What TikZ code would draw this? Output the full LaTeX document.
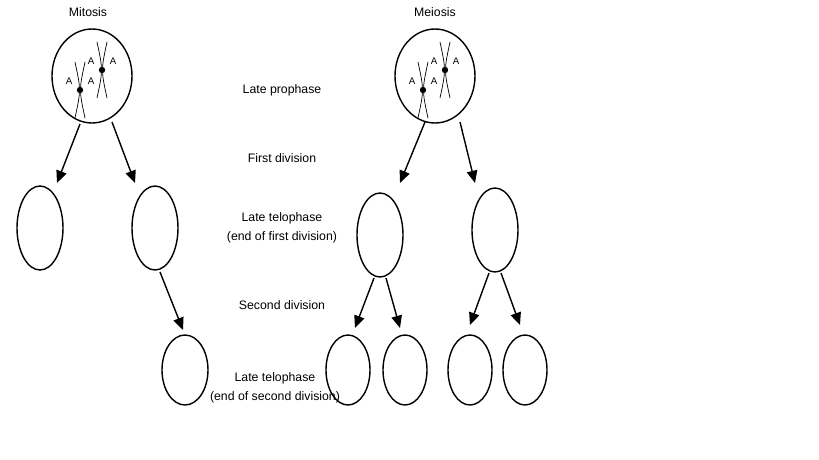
\documentclass[tikz,border=0pt]{standalone}
\usepackage{fontspec}
\setmainfont{Liberation Sans}
\usetikzlibrary{arrows.meta}
\begin{document}
\begin{tikzpicture}[x=0.02cm,y=-0.02cm,
  cell/.style={draw,thick,ellipse},
  split/.style={draw,thick,-{Triangle[length=7pt,width=6pt]}},
  stage/.style={font=\fontsize{7}{11}\selectfont,align=center},
  chromo/.pic={
    \draw (-5,-28) .. controls (1,0) .. (-5,28);
    \draw (5,-28) .. controls (-1,0) .. (5,28);
    \fill (0,0) circle (3.2);
    \node[font=\fontsize{5.5}{5}\selectfont] at (-11,-9) {A};
    \node[font=\fontsize{5.5}{5}\selectfont] at (11,-9) {A};
  }]
 \useasboundingbox (0,0) rectangle (819,460);

    % titles
    \node[stage] (mit) at (88,12) {Mitosis};
    \node[stage] (mei) at (435,12) {Meiosis};

    % stage labels
    \node[stage] (prophase) at (282,90) {Late prophase};
    \node[stage] (first) at (282,158) {First division};
    \node[stage] (telo1) at (282,228) {Late telophase\\(end of first division)};
    \node[stage] (second) at (282,305) {Second division};
    \node[stage] (telo2) at (275,388) {Late telophase\\(end of second division)};

    % mitosis
    \draw[thick] (92,76) ellipse (40 and 47);
    \pic at (80,90) {chromo};
    \pic at (102,70) {chromo};
    \draw[thick] (40,228) ellipse (23 and 42);
    \draw[thick] (155,228) ellipse (23 and 42);
    \draw[thick] (185,370) ellipse (23 and 35);
    \draw[split] (80,124) -- (57,183);
    \draw[split] (112,122) -- (135,183);
    \draw[split] (160,272) -- (183,330);

    % meiosis
    \draw[thick] (435,76) ellipse (40 and 47);
    \pic at (423,90) {chromo};
    \pic at (445,70) {chromo};
    \draw[thick] (380,235) ellipse (23 and 42);
    \draw[thick] (495,230) ellipse (23 and 42);
    \foreach \cx in {348,405,470,525}
      \draw[thick] (\cx,370) ellipse (22 and 35);
    \draw[split] (425,122) -- (400,183);
    \draw[split] (460,122) -- (475,183);
    \draw[split] (374,278) -- (355,328);
    \draw[split] (386,278) -- (400,328);
    \draw[split] (489,273) -- (470,325);
    \draw[split] (501,273) -- (520,325);
\end{tikzpicture}
\end{document}
